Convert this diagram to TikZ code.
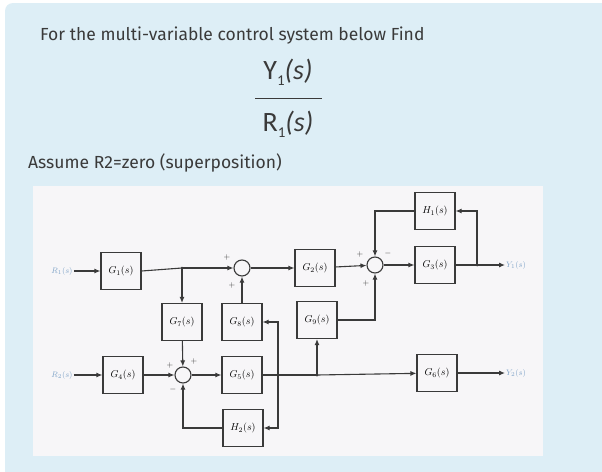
\documentclass[tikz,border=0pt]{standalone}
\usepackage{fontspec}
\setmainfont{Liberation Serif}
\newfontfamily\hdr{Fira Sans}
\newfontfamily\frc{Carlito}
\usetikzlibrary{arrows.meta}
\definecolor{panel}{HTML}{DDEEF6}
\definecolor{paper}{HTML}{F7F6F8}
\definecolor{lbl}{HTML}{7FA3C8}
\definecolor{ink}{HTML}{3A3A3A}
\newcommand{\frcsub}[1]{\raisebox{-6pt}{\fontsize{15}{15}\selectfont #1}}
\begin{document}
\begin{tikzpicture}[x=1pt,y=-1pt,
  blk/.style={draw=ink,line width=1.1pt,fill=paper,minimum width=40pt,minimum height=37pt,inner sep=0pt,font=\fontsize{10}{10}\selectfont\itshape},
  sum/.style={draw=ink,line width=1.1pt,circle,minimum size=16pt,inner sep=0pt,fill=paper},
  sig/.style={draw=ink,line width=1.1pt,-{Latex[length=6pt,width=5pt]}},
  ln/.style={draw=ink,line width=1.1pt},
  sg/.style={font=\fontsize{8}{8}\selectfont,text=ink,inner sep=0pt},
  io/.style={font=\fontsize{8}{8}\selectfont\itshape,text=lbl,inner sep=1pt},
  hd/.style={anchor=west,font=\hdr\fontsize{17.5}{18}\selectfont,text=ink,inner sep=0pt},
  big/.style={font=\frc\fontsize{28}{28}\selectfont,text=ink,inner sep=0pt}]
\useasboundingbox (0,0) rectangle (602,471);
\fill[white] (0,0) rectangle (602,471);
\fill[panel,rounded corners=8pt] (5,3) rectangle (612,480);
\node[hd] (t1) at (40,36) {For the multi-variable control system below Find};
\node[big] (num) at (288,72) {Y\frcsub{1}\textit{(s)}};
\node[big] (den) at (288,124) {R\frcsub{1}\textit{(s)}};
\draw[ink,thick] (255,98) -- (322,98);
\node[hd] (t2) at (28,163) {Assume R2=zero (superposition)};
\fill[paper] (33,186) rectangle (543,456);
% blocks
\node[blk] (g1) at (121,271) {$G_1(s)$};
\node[blk] (g2) at (315,268) {$G_2(s)$};
\node[blk] (g3) at (435,265) {$G_3(s)$};
\node[blk] (h1) at (435,211) {$H_1(s)$};
\node[blk] (g7) at (182,322) {$G_7(s)$};
\node[blk] (g8) at (242,322) {$G_8(s)$};
\node[blk] (g9) at (317,320) {$G_9(s)$};
\node[blk] (g4) at (123,375) {$G_4(s)$};
\node[blk] (g5) at (242,375) {$G_5(s)$};
\node[blk] (h2) at (243,428) {$H_2(s)$};
\node[blk] (g6) at (437,373) {$G_6(s)$};
\node[sum] (s1) at (242,268) {};
\node[sum] (s2) at (375,265) {};
\node[sum] (s3) at (183,375) {};
\node[io] (r1) at (62,271) {$R_1(s)$};
\node[io] (r2) at (62,375) {$R_2(s)$};
\node[io,anchor=west] (y1) at (505,265) {$Y_1(s)$};
\node[io,anchor=west] (y2) at (505,373) {$Y_2(s)$};
\coordinate (j1) at (182,268);
\coordinate (j2) at (278,375);
\coordinate (j3) at (317,375);
\coordinate (j4) at (477,265);
% row 1
\draw[sig] (r1) -- (g1);
\draw[ln] (g1.east) -- (j1);
\draw[sig] (j1) -- (s1);
\draw[sig] (s1) -- (g2);
\draw[sig] (g2) -- (s2);
\draw[sig] (s2) -- (g3);
\draw[sig] (g3) -- (y1);
\draw[sig] (j4) |- (h1.east);
\draw[sig] (h1.west) -| (s2.north);
\draw[sig] (g9.east) -| (s2.south);
\fill[ink] (j1) circle (1.5pt) (j4) circle (1.5pt);
% middle
\draw[sig] (j1) -- (g7);
\draw[sig] (g7) -- (s3);
\draw[sig] (g8) -- (s1);
\draw[sig] (j3) -- (g9);
% row 2
\draw[sig] (r2) -- (g4);
\draw[sig] (g4) -- (s3);
\draw[sig] (s3) -- (g5);
\draw[ln] (g5.east) -- (j2) -- (j3);
\draw[sig] (j3) -- (g6);
\draw[sig] (g6) -- (y2);
\draw[sig] (j2) |- (g8.east);
\draw[sig] (j2) |- (h2.east);
\draw[sig] (h2.west) -| (s3.south);
\fill[ink] (j2) circle (1.5pt) (j3) circle (1.5pt);
% signs
\node[sg] (p1) at (227,257) {$+$};
\node[sg] (p2) at (232,285) {$+$};
\node[sg] (p3) at (360,254) {$+$};
\node[sg] (m1) at (388,253) {$-$};
\node[sg] (p4) at (366,283) {$+$};
\node[sg] (p5) at (170,365) {$+$};
\node[sg] (p6) at (194,361) {$+$};
\node[sg] (m2) at (173,389) {$-$};
\end{tikzpicture}
\end{document}
